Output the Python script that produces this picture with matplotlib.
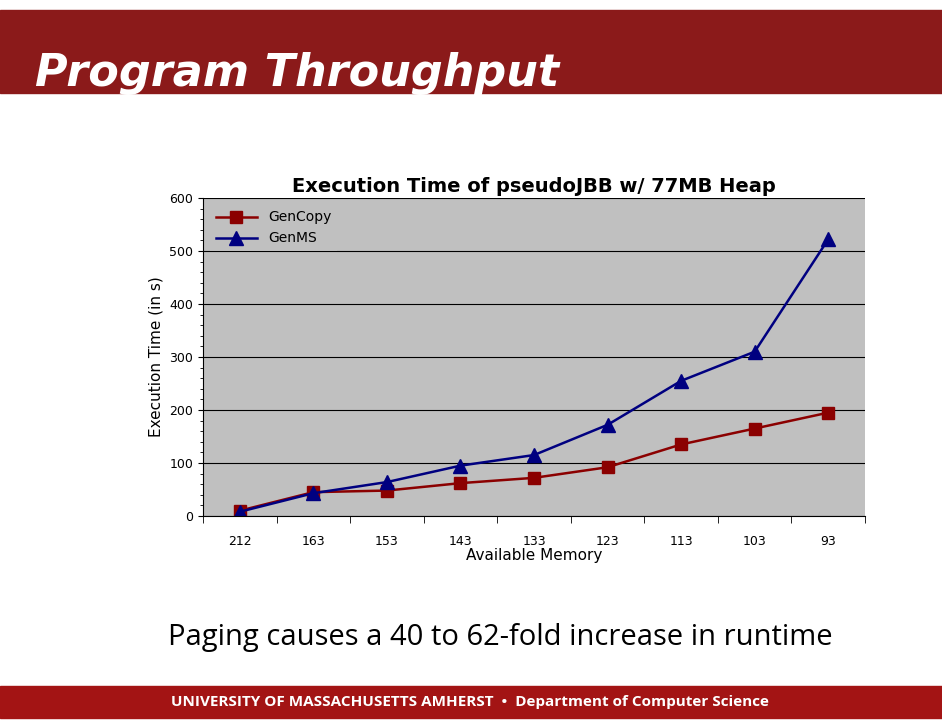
import matplotlib
matplotlib.use('Agg')
from matplotlib import pyplot as plt
from matplotlib.patches import Rectangle

memory = ['212', '163', '153', '143', '133', '123', '113', '103', '93']
gencopy = [10, 45, 48, 62, 72, 92, 135, 165, 195]
genms = [8, 43, 64, 95, 115, 172, 255, 310, 522]

fig = plt.figure(figsize=(9.42, 7.28), dpi=100)
W, H = 942, 728

def box(x0, y0, x1, y1, color):
    fig.patches.append(Rectangle((x0 / W, 1 - y1 / H), (x1 - x0) / W, (y1 - y0) / H,
                                 transform=fig.transFigure, color=color, zorder=0))

# banner and footer
box(0, 10, W, 93, '#8b1a1a')
box(0, 686, W, 718, '#a31414')
fig.text(35 / W, 1 - 86 / H, 'Program Throughput', color='white', fontsize=32,
         fontweight='bold', style='italic', family='DejaVu Sans')
fig.text(470 / W, 1 - 702 / H, 'UNIVERSITY OF MASSACHUSETTS AMHERST  \u2022  Department of Computer Science',
         color='white', fontsize=11, fontweight='bold', ha='center', va='center', family='Open Sans')
fig.text(500 / W, 1 - 638 / H, 'Paging causes a 40 to 62-fold increase in runtime',
         fontsize=21, ha='center', va='center', family='Open Sans')

ax = fig.add_axes([203 / W, 1 - 516 / H, 662 / W, 318 / H])
ax.set_facecolor('#c0c0c0')
x = range(len(memory))
ax.plot(x, gencopy, color='#8b0000', marker='s', markersize=9, lw=1.8, label='GenCopy')
ax.plot(x, genms, color='#000080', marker='^', markersize=10, lw=1.8, label='GenMS')
ax.set_xlim(-0.5, len(memory) - 0.5)
ax.set_ylim(0, 600)
ax.set_yticks(range(0, 601, 100))
ax.set_yticks(range(0, 601, 20), minor=True)
ax.grid(axis='y', color='black', lw=0.8)
ax.set_axisbelow(True)
ax.set_xticks(x)
ax.set_xticks([i + 0.5 for i in range(-1, len(memory))], minor=True)
ax.set_xticklabels(memory, fontsize=9)
ax.tick_params(axis='y', labelsize=9)
ax.tick_params(axis='x', which='major', length=0, pad=14)
ax.tick_params(axis='x', which='minor', length=5)
for s in ['top', 'right']:
    ax.spines[s].set_visible(False)
ax.set_xlabel('Available Memory', fontsize=11, labelpad=0)
ax.set_ylabel('Execution Time (in s)', fontsize=11)
ax.set_title('Execution Time of pseudoJBB w/ 77MB Heap', fontsize=14, fontweight='bold', pad=4)
leg = ax.legend(loc='upper left', frameon=True, fancybox=False, fontsize=10,
                facecolor='#c0c0c0', edgecolor='none', handlelength=3)

fig.savefig('out.png', dpi=100)
